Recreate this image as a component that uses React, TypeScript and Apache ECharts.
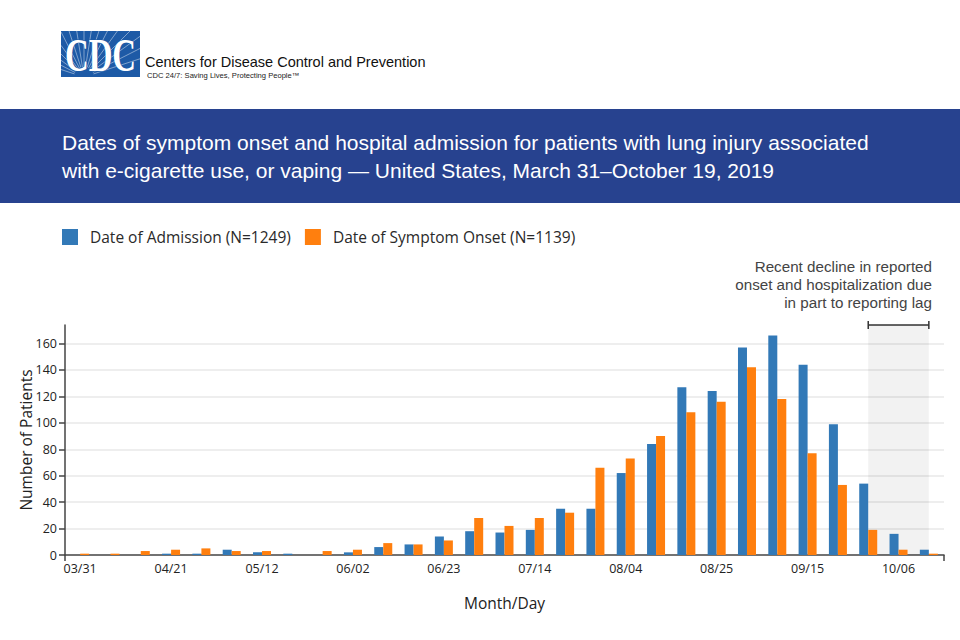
import React, { useEffect, useRef } from "react";
import * as echarts from "echarts";

const categories = [
  "03/31", "04/07", "04/14", "04/21", "04/28", "05/05", "05/12", "05/19", "05/26", "06/02",
  "06/09", "06/16", "06/23", "06/30", "07/07", "07/14", "07/21", "07/28", "08/04", "08/11",
  "08/18", "08/25", "09/01", "09/08", "09/15", "09/22", "09/29", "10/06", "10/13",
];
const admission = [0, 0, 0, 1, 1, 4, 2, 1, 0, 2, 6, 8, 14, 18, 17, 19, 35, 35, 62, 84, 127, 124, 157, 166, 144, 99, 54, 16, 4];
const onset = [1, 1, 3, 4, 5, 3, 3, 0, 3, 4, 9, 8, 11, 28, 22, 28, 32, 66, 73, 90, 108, 116, 142, 118, 77, 53, 19, 4, 1];
const seriesNames = ["Date of Admission (N=1249)", "Date of Symptom Onset (N=1139)"];
const lagStart = "09/29";
const lagEnd = "10/13";
const yMax = 174;
const titleLines = [
  "Dates of symptom onset and hospital admission for patients with lung injury associated",
  "with e-cigarette use, or vaping \u2014 United States, March 31\u2013October 19, 2019",
];
const noteLines = ["Recent decline in reported", "onset and hospitalization due", "in part to reporting lag"];

const BLUE = "#3279b7";
const ORANGE = "#ff7f0e";
const SANS = "'Open Sans', 'Noto Sans', sans-serif";
const HELV = "'Liberation Sans', Arial, sans-serif";

function logoRays() {
  const x0 = 61, y0 = 31, x1 = 140, y1 = 77;
  const ox = 84, oy = 77;
  const out: any[] = [];
  for (let a = 18; a <= 165; a += 9) {
    const r = (a * Math.PI) / 180;
    const dx = Math.cos(r), dy = -Math.sin(r);
    let t = Infinity;
    if (dx > 0) t = Math.min(t, (x1 - ox) / dx);
    if (dx < 0) t = Math.min(t, (x0 - ox) / dx);
    t = Math.min(t, (y0 - oy) / dy);
    out.push({
      type: "line",
      shape: { x1: ox + dx * 10, y1: oy + dy * 10, x2: ox + dx * t, y2: oy + dy * t },
      style: { stroke: "rgba(255,255,255,0.55)", lineWidth: 0.8 },
      silent: true,
    });
  }
  return out;
}

export default function App() {
  const ref = useRef<HTMLDivElement>(null);
  useEffect(() => {
    if (!ref.current) return;
    const chart = echarts.init(ref.current, undefined, { renderer: "svg" });
    const option: any = {
      animation: false,
      backgroundColor: "#ffffff",
      legend: {
        left: 62,
        top: 229,
        padding: 0,
        itemWidth: 16,
        itemHeight: 16,
        itemGap: 14,
        icon: "rect",
        data: seriesNames,
        textStyle: { fontFamily: SANS, fontSize: 15.5, color: "#2a2a2a", padding: [0, 0, 0, 7] },
        selectedMode: false,
      },
      grid: { left: 65, right: 16, top: 325, bottom: 85 },
      xAxis: [
        {
          type: "category",
          data: categories,
          boundaryGap: true,
          name: "Month/Day",
          nameLocation: "middle",
          nameGap: 40,
          nameMoveOverlap: false,
          nameTextStyle: { fontFamily: SANS, fontSize: 15.5, color: "#222" },
          axisLine: { lineStyle: { color: "#444", width: 1.5 } },
          axisTick: { alignWithLabel: true, interval: 0, length: 6, lineStyle: { color: "#444", width: 1.5 } },
          axisLabel: { interval: 2, fontFamily: SANS, fontSize: 12.5, color: "#222", margin: 7 },
        },
        {
          type: "category",
          data: ["", ""],
          boundaryGap: false,
          position: "bottom",
          axisLine: { show: false },
          axisTick: { length: 6, lineStyle: { color: "#444", width: 1.5 } },
          axisLabel: { show: false },
        },
      ],
      yAxis: {
        type: "value",
        min: 0,
        max: yMax,
        interval: 20,
        name: "Number of Patients",
        nameLocation: "middle",
        nameGap: 31,
        nameMoveOverlap: false,
        nameTextStyle: { fontFamily: SANS, fontSize: 15.5, color: "#222" },
        axisLine: { show: true, lineStyle: { color: "#444", width: 1.5 } },
        axisTick: { show: true, length: 6, lineStyle: { color: "#444", width: 1.5 } },
        axisLabel: { showMaxLabel: false, fontFamily: SANS, fontSize: 12.5, color: "#222", margin: 8 },
        splitLine: { show: true, showMinLine: false, showMaxLine: false, lineStyle: { color: "#e9e9e9", width: 1.5 } },
      },
      series: [
        {
          name: seriesNames[0],
          type: "bar",
          data: admission,
          barWidth: 9,
          barGap: "0%",
          itemStyle: { color: BLUE },
          markArea: {
            silent: true,
            itemStyle: { color: "rgba(0,0,0,0.05)" },
            data: [[{ xAxis: lagStart }, { xAxis: lagEnd }]],
          },
          z: 3,
        },
        {
          name: seriesNames[1],
          type: "bar",
          data: onset,
          barWidth: 9,
          barGap: "0%",
          itemStyle: { color: ORANGE },
          z: 3,
        },
      ],
    };
    chart.setOption(option);

    const bx1 = chart.convertToPixel({ xAxisIndex: 0 }, lagStart) as number;
    const bx2 = chart.convertToPixel({ xAxisIndex: 0 }, lagEnd) as number;
    const by = chart.convertToPixel({ yAxisIndex: 0 }, yMax) as number;

    const graphic: any[] = [
      { type: "rect", shape: { x: 0, y: 109, width: 960, height: 94 }, style: { fill: "#27428f" }, silent: true },
      ...titleLines.map((t, i) => ({
        type: "text",
        x: 62,
        y: 142 + i * 28,
        style: { text: t, fill: "#ffffff", font: `21px ${HELV}`, textVerticalAlign: "middle" },
        silent: true,
      })),
      { type: "rect", shape: { x: 61, y: 31, width: 79, height: 46 }, style: { fill: "#1d5aa6" }, silent: true },
      ...logoRays(),
      {
        type: "text",
        x: 100.5,
        y: 55,
        scaleX: 0.7,
        style: {
          text: "CDC",
          fill: "#ffffff",
          stroke: "#1d5aa6",
          lineWidth: 1,
          font: `bold 47px 'Liberation Serif', serif`,
          textAlign: "center",
          textVerticalAlign: "middle",
        },
        silent: true,
      },
      {
        type: "text",
        x: 145,
        y: 62,
        style: { text: "Centers for Disease Control and Prevention", fill: "#111", font: `14.5px ${HELV}`, textVerticalAlign: "middle" },
        silent: true,
      },
      {
        type: "text",
        x: 147,
        y: 75,
        style: { text: "CDC 24/7: Saving Lives, Protecting People\u2122", fill: "#222", font: `7.6px ${HELV}`, textVerticalAlign: "middle" },
        silent: true,
      },
      ...noteLines.map((t, i) => ({
        type: "text",
        x: 932,
        y: 266 + i * 18.3,
        style: { text: t, fill: "#444", font: `15.2px ${HELV}`, textAlign: "right", textVerticalAlign: "middle" },
        silent: true,
      })),
      { type: "line", shape: { x1: bx1, y1: by, x2: bx2, y2: by }, style: { stroke: "#333", lineWidth: 1.5 }, silent: true },
      { type: "line", shape: { x1: bx1, y1: by - 4, x2: bx1, y2: by + 4 }, style: { stroke: "#333", lineWidth: 1.5 }, silent: true },
      { type: "line", shape: { x1: bx2, y1: by - 4, x2: bx2, y2: by + 4 }, style: { stroke: "#333", lineWidth: 1.5 }, silent: true },
    ];
    chart.setOption({ graphic });

    return () => chart.dispose();
  }, []);
  return (
    <div
      ref={ref}
      style={{ position: "fixed", left: 0, top: 0, width: 960, height: 640 }}
    />
  );
}
